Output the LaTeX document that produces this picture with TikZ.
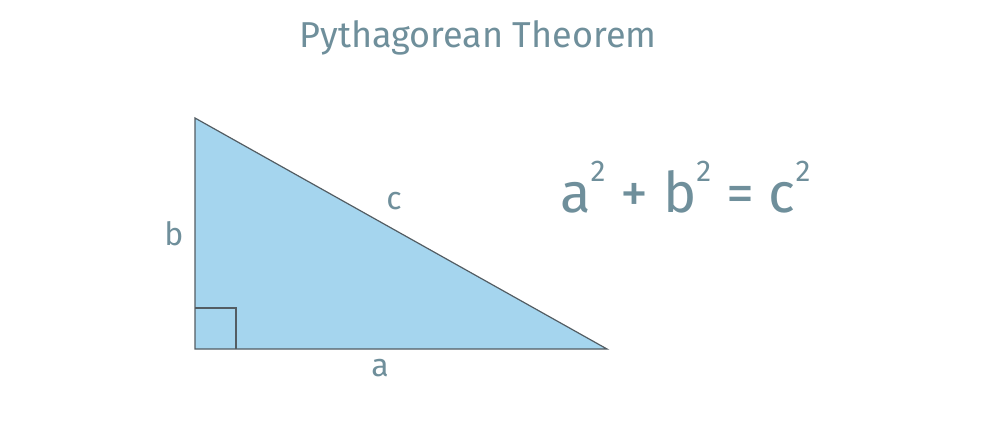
\documentclass[tikz,border=0pt]{standalone}
\usepackage{fontspec}
\setmainfont{Fira Sans}
\usetikzlibrary{positioning, calc}
\definecolor{slate}{HTML}{6F8F9B}
\definecolor{skyfill}{HTML}{A5D5EE}
\definecolor{edgegray}{HTML}{535D63}
\newcommand{\sqr}{\raisebox{0.55em}{\fontsize{30}{30}\selectfont 2}}

\begin{document}
\begin{tikzpicture}[
        x=1pt, y=-1pt,
        side/.style={text=slate, font=\fontsize{32}{36}\selectfont, inner sep=0pt},
        tri/.style={draw=edgegray, line width=1.2pt, fill=skyfill, line join=miter}
    ]
        \useasboundingbox (0,0) rectangle (1000,440);
        % triangle corners
        \coordinate (top) at (195,118);
        \coordinate (corner) at (195,349);
        \coordinate (tip) at (607,349);
        \fill[white] (0,0) rectangle (1000,440);
        \draw[tri] (top) -- (corner) -- (tip) -- cycle;
        \draw[draw=edgegray, line width=1.2pt] ($(corner)+(0,-41)$) -- ++(41,0) -- ++(0,41);

        \node[side] (lblb) at (174,234) {b};
        \node[side] (lblc) at (394,201) {c};
        \node[side] (lbla) at (380,368) {a};

        \node[text=slate, font=\fontsize{36}{40}\selectfont, anchor=base] (title) at (478,47) {Pythagorean Theorem};
        \node[text=slate, font=\fontsize{56}{60}\selectfont, anchor=base west, inner sep=0pt] (formula) at (560,212) {a\sqr\ + b\sqr\ = c\sqr};
    \end{tikzpicture}
\end{document}
